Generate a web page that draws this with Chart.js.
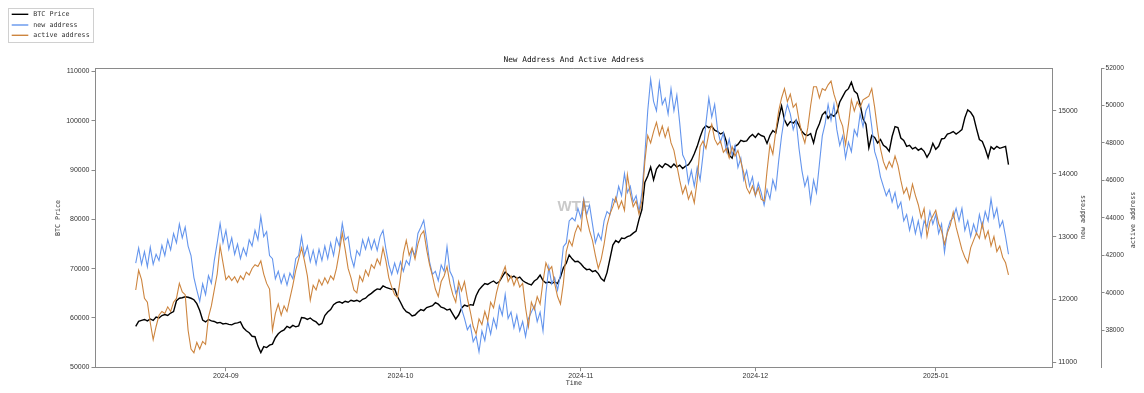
<!DOCTYPE html>
<html lang="en">
<head>
<meta charset="UTF-8">
<title>New Address And Active Address</title>
<script src="https://cdn.jsdelivr.net/npm/chart.js"></script>
<style>
  body {
    margin: 0;
    padding: 0;
    background: #fff;
  }
  #wrap {
    width: 1144px;
    height: 393px;
  }
</style>
</head>
<body>
<div id="wrap">
  <canvas id="addr-chart" width="1144" height="393"></canvas>
</div>
<script>
  // samples every 12 hours, first one at 2024-08-16 12:00
  const startTime = Date.UTC(2024, 7, 16, 12);
  const stepHours = 12;

  const btcPrice = [
    58300, 59300, 59500, 59700, 59400, 59800, 59500, 60200, 60000, 60500,
    60700, 60500, 61000, 61300, 63500, 64000, 64100, 64300, 64200, 64000,
    63700, 62900, 61500, 59600, 59200, 59700, 59400, 59300, 59000, 59100,
    58800, 58900, 58700, 58600, 58900, 59000, 59200, 58000, 57400, 57000,
    56300, 56200, 54300, 53000, 54200, 54000, 54500, 54700, 56000, 56800,
    57300, 57600, 58300, 58000, 58500, 58200, 58400, 60100, 60000, 59700,
    60000, 59500, 59200, 58600, 58900, 60500, 61200, 61700, 62700, 63100,
    63300, 63000, 63400, 63200, 63600, 63400, 63600, 63300, 63800, 64000,
    64600, 65000, 65500, 65900, 65800, 66500, 66200, 66000, 65800, 65900,
    64300, 63200, 62000, 61300, 61000, 60400, 60600, 61200, 61700, 61500,
    62100, 62300, 62500, 63100, 62800, 62200, 62000, 61600, 61800, 60800,
    59800, 60600, 62000, 62600, 62400, 62700, 62600, 64500, 65700, 66400,
    67000, 66800, 67200, 67500, 67000, 67400, 68400, 69300, 68800, 68200,
    68500, 68000, 68300, 67600, 67200, 66900, 66700, 67500, 67900, 68700,
    67600, 67100, 67300, 67000, 67300, 67000, 68300, 70200, 71100, 72800,
    72000, 71400, 71500, 71000, 70300, 69800, 69900, 69400, 69600, 69000,
    68000, 67500, 69200, 72000, 74800, 75700, 75300, 76200, 76100, 76500,
    76700, 77200, 77600, 80000, 82000, 87500, 88800, 90600, 88000, 90200,
    91000, 90500, 91300, 91000, 90500, 91200, 90600, 91000, 90300, 90800,
    91100, 92000, 93300, 94800, 96700, 98300, 99000, 98600, 98900, 98100,
    97800, 97300, 97600, 95800, 93000, 92400, 94800, 95200, 96000, 95800,
    95900, 96700, 97200, 96600, 97400, 97000, 96800, 95400, 97000, 98000,
    97500, 100500, 103000, 100200, 99000, 99800, 99500, 100100, 99000, 97800,
    97200, 97000, 97400, 95500, 98000, 99400, 101200, 101800, 100500, 101300,
    100900, 101700, 103800, 104900, 106000, 106500, 107800, 106000, 105500, 103300,
    100400, 99300, 94500, 97000, 96600, 95500, 96200, 95000, 94600, 93800,
    96800, 98800, 98600, 96500, 96000, 94800, 95000, 94300, 94600, 94000,
    94400, 93800, 92600, 93600, 95400, 94200, 94800, 96300, 96400, 97300,
    97500, 97800, 97300, 97700, 98200, 100600, 102200, 101700, 100800, 98400,
    96200, 95800, 94300, 92500, 94700, 94200, 94800, 94400, 94600, 94800,
    91100
  ];

  const newAddress = [
    12580, 12820, 12560, 12760, 12520, 12830, 12560, 12720, 12620, 12860,
    12700, 12950, 12790, 13050, 12900, 13200, 12980, 13150, 12850, 12700,
    12350, 12150, 11970, 12250, 12080, 12380, 12260, 12620, 12900, 13210,
    12900, 13100, 12800, 12980, 12720, 12880, 12650, 12820, 12700, 12950,
    12850, 13100, 12950, 13320, 13000, 13080, 12700, 12650, 12330, 12450,
    12260, 12400, 12230, 12420, 12330, 12650, 12700, 13000, 12700, 12850,
    12600, 12780, 12560, 12800, 12620, 12850, 12650, 12900, 12700, 12980,
    12850, 13210, 12950, 13000, 12680, 12520, 12780, 12700, 12950, 12800,
    12980, 12800, 12950, 12780, 13000, 13100, 12800, 12550, 12400, 12580,
    12420, 12600, 12450, 12620, 12550, 12800, 12700, 13050, 13150, 13260,
    12950, 12600, 12400, 12450, 12300, 12550, 12450, 12840, 12450, 12350,
    12100, 12200, 11850, 11700, 11520, 11600, 11330, 11420, 11170, 11500,
    11350, 11650, 11450, 11700, 11550, 11900, 11750, 12080, 11700, 11800,
    11550, 11750, 11500, 11650, 11410, 11700, 11800, 11900, 11650, 11800,
    11500, 12100, 12520, 12250, 12350, 12150, 12400, 12840, 12900, 13250,
    13300, 13250, 13450, 13300, 13600, 13350, 13500, 13200, 12900, 13050,
    12950, 13250, 13400, 13350, 13600, 13550, 13800, 13650, 14000, 13700,
    13800, 13550, 13650, 13400, 13700, 14300, 15000, 15500, 15150, 15000,
    15450, 15100, 15200, 14950, 15350, 15000, 15250, 14800, 14300, 14200,
    13850, 14050, 13800, 14100, 13900, 14300, 14800, 15200, 14900, 15100,
    14700, 14500, 14650, 14350, 14550, 14300, 14450, 14100, 14250, 13900,
    14050, 13800, 13950, 13650, 13850, 13700, 13500, 13750, 13600, 13900,
    13750, 14200, 14600, 14900, 15100, 14950, 14700, 14850, 14400, 14050,
    13800, 13950, 13550, 13900, 13700, 14150, 14600, 14800, 15100, 14850,
    15100, 14700, 14450, 14600, 14250, 14500, 14350, 14700, 14600, 14950,
    14750, 15000, 15100, 14750, 14350, 14200, 13950, 13800, 13650, 13750,
    13550, 13700, 13450, 13550, 13250, 13350, 13100, 13300, 13050, 13250,
    13000, 13250, 13150, 13400, 13200, 13350, 13050, 13200, 12750, 13100,
    13250, 13300, 13450, 13250, 13450, 13100, 13250, 13000, 13200, 13050,
    13350, 13150, 13400, 13250, 13600, 13300, 13450, 13150, 13250, 13000,
    12720
  ];

  const activeAddress = [
    40150, 41200, 40700, 39700, 39500, 38400, 37500, 38200, 38800, 39000,
    38900, 39250, 39000, 39500, 39700, 40500, 40050, 39900, 38000, 37000,
    36800, 37350, 37000, 37400, 37250, 38700, 39300, 40150, 41000, 42500,
    41600, 40700, 40900, 40650, 40850, 40550, 40900, 40700, 41100, 40950,
    41300, 41500, 41400, 41700, 41000, 40500, 40200, 38000, 38900, 39400,
    38800, 39300, 39000, 39700, 40400, 41200, 41800, 42400, 41700, 40900,
    39600, 40400, 40150, 40700, 40400, 40800, 40500, 40900, 40700, 41300,
    42200, 43200, 42300, 41300, 40800, 40150, 40000, 40900, 40600, 41200,
    40900, 41500, 41300, 41800, 41500, 42400, 41700, 40800, 40300, 39900,
    39750, 40800, 42100, 42800, 42000, 42400, 41800, 42600, 43100, 43300,
    42300, 41500, 40900, 40200, 39800, 40600, 40900, 41400, 40500, 39900,
    39500, 40600, 40100, 40600, 39700, 39000, 38200, 37800, 38600, 38300,
    39000, 38500, 39500, 39200, 40000, 40600, 41000, 41400, 40600, 40900,
    40400, 40800, 40300, 40500, 39200, 38200, 39500, 39100, 39800, 39400,
    40600, 41600, 41200, 41400, 40500, 39800, 39400, 40500, 42200, 42800,
    42500, 43200, 43600, 43300, 44900, 44000, 43300, 42800, 42000, 41300,
    41800, 42600, 43600, 44200, 44600, 45100, 44500, 44900, 44400, 46300,
    45300, 44600, 44900, 44200, 44900, 47000, 48400, 48000, 48600, 49100,
    48400, 48900, 48300, 48800, 48000, 47600, 46800, 46000, 45300, 45700,
    45000, 45400, 44800, 46000, 47800, 48100, 47700, 48500, 49000, 48200,
    47900, 48100, 47500, 47700, 47200, 47800, 47300, 47600, 47000, 46400,
    45600, 45300, 45700, 45200, 45600, 45000, 44900, 46500, 47900, 47400,
    48600, 49700, 50400, 50900, 50200, 50600, 49900, 50100, 49200, 48500,
    48000, 48800, 50000, 51000, 51000, 50400, 50900, 50800, 51100, 51300,
    50600, 50100, 49300, 48900, 47900, 49000, 50300, 49700, 50200, 49900,
    50300, 50400, 50500, 50900, 49900, 48700, 47700, 47000, 46600, 47000,
    46700, 47300, 46800, 46000, 45300, 45600, 45000, 45800, 45200, 44700,
    44000, 44500, 43000, 43800, 44100, 44400, 43700, 43300, 42600, 43200,
    43600, 44300, 43500, 42900, 42300, 41900, 41600, 42400, 42800, 43200,
    42900, 43700, 42900, 43300, 42500, 43000, 42200, 42500, 41900, 41600,
    40950
  ];

  const monthTicks = ['2024-09', '2024-10', '2024-11', '2024-12', '2025-01'];
  const priceTicks = [50000, 60000, 70000, 80000, 90000, 100000, 110000];
  const newTicks = [11000, 12000, 13000, 14000, 15000];
  const activeTicks = [38000, 40000, 42000, 44000, 46000, 48000, 50000, 52000];

  const seriesNames = ['BTC Price', 'new address', 'active address'];
  const seriesColors = ['#000000', '#6495ed', '#cd853f'];

  const monoFont = '"DejaVu Sans Mono", "Liberation Mono", monospace';
  const numFont = '"Liberation Sans", Arial, sans-serif';
  const spineColor = '#8a8a8a';
  const textColor = '#333333';

  function toPoints(values) {
    return values.map((v, i) => ({ x: startTime + i * stepHours * 3600000, y: v }));
  }

  function monthValue(label) {
    return Date.UTC(+label.slice(0, 4), +label.slice(5, 7) - 1, 1);
  }

  // title, axis names, legend box, watermark
  const decor = {
    id: 'decor',
    beforeDatasetsDraw(chart) {
      const { ctx, chartArea: a } = chart;
      ctx.save();
      ctx.font = 'bold 15px "Liberation Sans", Arial, sans-serif';
      ctx.fillStyle = 'rgba(150,150,150,0.5)';
      ctx.textAlign = 'center';
      ctx.textBaseline = 'middle';
      ctx.fillText('WTF', (a.left + a.right) / 2, a.top + (a.bottom - a.top) * 0.463);
      ctx.restore();
    },
    afterDraw(chart) {
      const { ctx, chartArea: a } = chart;
      ctx.save();

      // top spine
      ctx.strokeStyle = spineColor;
      ctx.lineWidth = 1;
      ctx.beginPath();
      ctx.moveTo(a.left, a.top + 0.5);
      ctx.lineTo(a.right, a.top + 0.5);
      ctx.stroke();

      ctx.fillStyle = '#111';
      ctx.textAlign = 'center';
      ctx.textBaseline = 'middle';
      ctx.font = '7.8px ' + monoFont;
      ctx.fillText('New Address And Active Address', (a.left + a.right) / 2, 60);

      ctx.fillStyle = textColor;
      ctx.font = '6.7px ' + monoFont;
      ctx.fillText('Time', (a.left + a.right) / 2, 383);

      const vText = (txt, x, y) => {
        ctx.save();
        ctx.translate(x, y);
        ctx.rotate(-Math.PI / 2);
        ctx.fillText(txt, 0, 0);
        ctx.restore();
      };
      vText('BTC Price', 58, 218);
      vText('new address', 1083, 217);
      vText('active address', 1133, 220);

      // legend
      ctx.fillStyle = '#fff';
      ctx.strokeStyle = '#d0d0d0';
      ctx.lineWidth = 1;
      ctx.fillRect(8.5, 8.5, 85, 34);
      ctx.strokeRect(8.5, 8.5, 85, 34);
      const rows = [14.3, 25, 35.3];
      ctx.textAlign = 'left';
      seriesNames.forEach((name, i) => {
        ctx.strokeStyle = seriesColors[i];
        ctx.lineWidth = 1.4;
        ctx.beginPath();
        ctx.moveTo(11.7, rows[i]);
        ctx.lineTo(28.3, rows[i]);
        ctx.stroke();
        ctx.fillStyle = textColor;
        ctx.fillText(name, 33.3, rows[i]);
      });
      ctx.restore();
    }
  };

  function yScale(position, weight, min, max, width, tickList, fontSize, pad) {
    return {
      position: position,
      weight: weight,
      min: min,
      max: max,
      afterFit(scale) { scale.width = width; },
      afterBuildTicks(scale) {
        scale.ticks = tickList.map(v => ({ value: v }));
      },
      grid: { drawOnChartArea: false, tickLength: 3.5, color: spineColor },
      border: { display: true, color: spineColor, width: 1 },
      ticks: {
        padding: pad,
        color: textColor,
        font: { family: numFont, size: fontSize },
        callback: v => String(v)
      }
    };
  }

  const ctx = document.getElementById('addr-chart').getContext('2d');
  const chart = new Chart(ctx, {
    type: 'line',
    data: {
      datasets: [{
        label: seriesNames[0],
        data: toPoints(btcPrice),
        yAxisID: 'y',
        borderColor: seriesColors[0],
        borderWidth: 1.4,
        pointRadius: 0,
        tension: 0,
        order: 3
      }, {
        label: seriesNames[1],
        data: toPoints(newAddress),
        yAxisID: 'y1',
        borderColor: seriesColors[1],
        borderWidth: 1.1,
        pointRadius: 0,
        tension: 0,
        order: 2
      }, {
        label: seriesNames[2],
        data: toPoints(activeAddress),
        yAxisID: 'y2',
        borderColor: seriesColors[2],
        borderWidth: 1.1,
        pointRadius: 0,
        tension: 0,
        order: 1
      }]
    },
    options: {
      responsive: false,
      animation: false,
      devicePixelRatio: 1,
      layout: { padding: { top: 68, left: 0, right: 0, bottom: 0 } },
      plugins: {
        legend: { display: false },
        title: { display: false },
        tooltip: { enabled: false }
      },
      scales: {
        x: {
          type: 'linear',
          position: 'bottom',
          min: Date.UTC(2024, 7, 9, 12),
          max: Date.UTC(2025, 0, 21, 2, 24),
          afterBuildTicks(scale) {
            scale.ticks = monthTicks.map(m => ({ value: monthValue(m) }));
          },
          afterFit(scale) { scale.height = 25.3; },
          grid: { drawOnChartArea: false, tickLength: 3.5, color: spineColor },
          border: { display: true, color: spineColor, width: 1 },
          ticks: {
            autoSkip: false,
            maxRotation: 0,
            padding: 1,
            color: textColor,
            font: { family: numFont, size: 7 },
            callback: (value, index) => monthTicks[index]
          }
        },
        y: yScale('left', 0, 49920, 110690, 95, priceTicks, 7, 2),
        y1: yScale('right', 0, 10917, 15680, 48.3, newTicks, 7, 2),
        y2: yScale('right', 1, 36000, 52000, 43, activeTicks, 6.6, 1)
      }
    },
    plugins: [decor]
  });
</script>
</body>
</html>
